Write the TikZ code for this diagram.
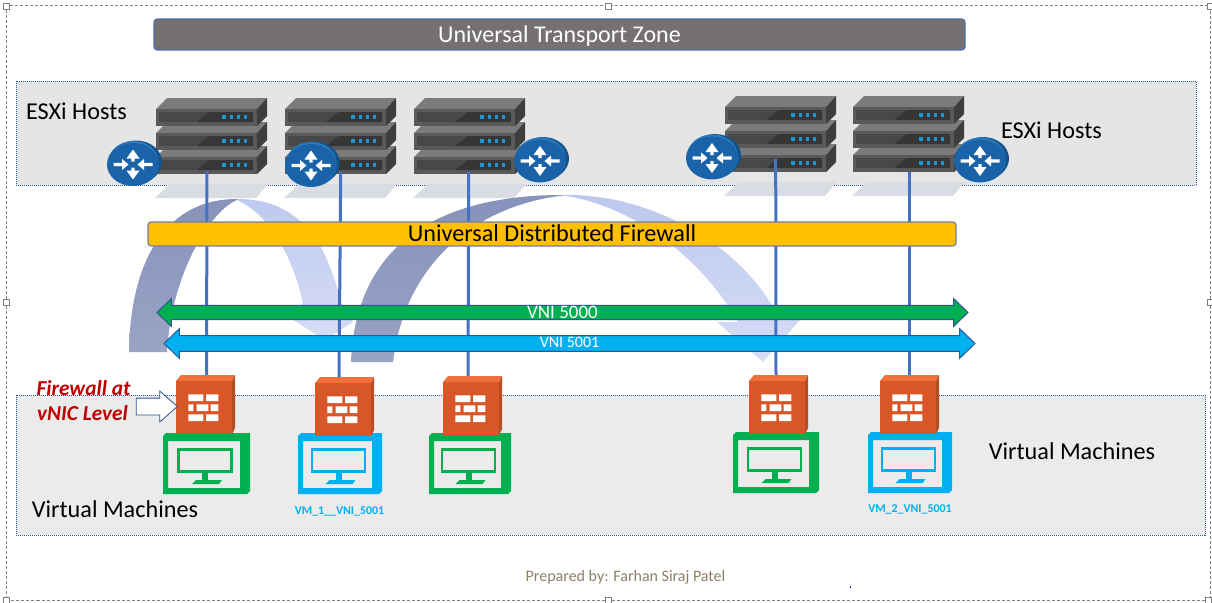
\documentclass[tikz,border=0pt]{standalone}
\usepackage{fontspec}
\setmainfont{Carlito}
\usetikzlibrary{shapes.arrows}
\definecolor{bandA}{HTML}{E5E5E5}
\definecolor{bandB}{HTML}{EBEBEB}
\definecolor{edgeB}{HTML}{2F5597}
\definecolor{linkB}{HTML}{4472C4}
\definecolor{vmG}{HTML}{00B050}
\definecolor{vmB}{HTML}{00B0F0}
\definecolor{fwF}{HTML}{D85627}
\definecolor{fwT}{HTML}{F0703C}
\definecolor{fwS}{HTML}{B54E25}
\definecolor{shadowC}{HTML}{D9DCE2}
\definecolor{redT}{HTML}{C00000}
\definecolor{srvT}{HTML}{7B7B7B}
\definecolor{srvF}{HTML}{5A5A5A}
\definecolor{srvS}{HTML}{3E3E3E}
\definecolor{srvI}{HTML}{484848}
\definecolor{srvD}{HTML}{363636}
\definecolor{srvL}{HTML}{1E96D8}
\definecolor{arcLa}{HTML}{BCC8EE}
\definecolor{arcLb}{HTML}{D8DEF6}
\definecolor{arcDa}{HTML}{8692BC}
\definecolor{arcDb}{HTML}{9CA4C4}
\definecolor{ttl}{HTML}{767171}
\definecolor{barY}{HTML}{FFC000}
\definecolor{barE}{HTML}{6E80A8}
\definecolor{prepC}{HTML}{8C8069}
\newcommand\fs[1]{\fontsize{#1}{#1}\selectfont}
\tikzset{
  x=1pt,y=-1pt,
  band/.style={draw=edgeB,line width=.8pt,dash pattern=on 1pt off 1pt},
  lbl/.style={inner sep=0pt,text=black,font=\fs{24.2}},
  vmlbl/.style={inner sep=0pt,text=vmB,font=\fs{11.9}\bfseries},
  redlbl/.style={inner sep=0pt,text=redT,font=\fs{21.3}\bfseries\itshape},
  link/.style={draw=linkB,line width=3pt},
  handle/.style={draw=gray,fill=white,line width=.6pt,minimum size=6pt,inner sep=0pt},
  vniarrow/.style={double arrow,draw=edgeB,line width=1pt,inner sep=0pt,text=white,
     double arrow tip angle=88,double arrow head indent=0pt,minimum height=#1,anchor=center},
}
\newcommand\SrvLayer[2]{%
 \begin{scope}[shift={(#1,#2)}]
  \fill[srvT] (0,11) -- (11,0) -- (111,0) -- (101,11) -- cycle;
  \fill[srvS] (101,11) -- (111,0) -- (111,18) -- (101,28) -- cycle;
  \fill[srvF] (0,11) rectangle (101,28);
  \fill[srvI] (3,14) rectangle (97,24);
  \fill[srvD] (41,24) -- (54,14) -- (97,14) -- (97,24) -- cycle;
  \foreach \lx in {66.3,73.5,80.5,87.5}{\fill[srvL] (\lx,17.3) rectangle ++(3.5,3.5);}
 \end{scope}}
\newcommand\SrvShadow[2]{%
 \begin{scope}[shift={(#1,#2)}]
  \fill[shadowC] (-1,100) -- (100,100) -- (112,86) -- (14,86) -- cycle;
 \end{scope}}
\newcommand\SrvThree[2]{%
 \SrvLayer{#1}{#2+48}\SrvLayer{#1}{#2+24}\SrvLayer{#1}{#2}}
\definecolor{rF}{HTML}{1A63A8}
\definecolor{rT}{HTML}{2A7ABF}
\definecolor{rD}{HTML}{14528C}
\newcommand\Router[2]{%
 \begin{scope}[shift={(#1,#2)}]
  \fill[rD] (3,-2.5) ellipse [x radius=26,y radius=21.5];
  \fill[rT] (0.5,-3) ellipse [x radius=25,y radius=20.5];
  \fill[rF] (0,0) ellipse [x radius=26,y radius=21.5];
  \fill[white] (0,-15) -- (6.5,-6) -- (1.7,-6) -- (1.7,-3) -- (-1.7,-3) -- (-1.7,-6) -- (-6.5,-6) -- cycle;
  \fill[white] (0,15) -- (6.5,6) -- (1.7,6) -- (1.7,3) -- (-1.7,3) -- (-1.7,6) -- (-6.5,6) -- cycle;
  \fill[white] (-4.5,0) -- (-11,-5.5) -- (-11,-1.6) -- (-19.5,-1.6) -- (-19.5,1.6) -- (-11,1.6) -- (-11,5.5) -- cycle;
  \fill[white] (4.5,0) -- (11,-5.5) -- (11,-1.6) -- (19.5,-1.6) -- (19.5,1.6) -- (11,1.6) -- (11,5.5) -- cycle;
 \end{scope}}
\newcommand\Wall[2]{%
 \begin{scope}[shift={(#1,#2)}]
  \fill[fwT] (0,0) -- (5,-6) -- (59,-6) -- (56,0) -- cycle;
  \fill[fwS] (56,0) -- (59,-6) -- (59,47) -- (56,53) -- cycle;
  \fill[fwF] (0,0) rectangle (56,53);
  \fill[white] (12.3,13.3) rectangle (27.3,20) (30,13.3) rectangle (42.3,20)
   (12.3,23.3) rectangle (17.3,30) (20.7,23.3) rectangle (32.3,30) (34.7,23.3) rectangle (42.3,30)
   (12.3,33.3) rectangle (27.3,40) (30,33.3) rectangle (42.3,40);
 \end{scope}}
\newcommand\VMbox[4]{%
 \begin{scope}[shift={(#1,#2)}]
  \fill[#4,even odd rule] (3,0) -- (#3,0) -- (#3,58) -- (#3-3,61) -- (0,61) -- (0,3) -- cycle
    (5,8) rectangle (#3-10,55);
  \begin{scope}[shift={({(#3-87)/2},0)}]
  \draw[#4,line width=2.6pt,fill=bandB] (15.5,16.5) rectangle (68.5,38.5);
  \fill[#4] (39,40) rectangle (45,48);
  \fill[#4] (29,51) -- (33,47) -- (59,47) -- (56,51) -- cycle;
  \end{scope}
 \end{scope}}
\begin{document}
\begin{tikzpicture}
\useasboundingbox (0,0) rectangle (1212,602);
\fill[white] (0,0) rectangle (1212,602);
\draw[gray,dash pattern=on 3pt off 2pt,line width=.8pt] (6,5.5) rectangle (1210,600);
\foreach \hn/\hx/\hy in {a/6/6,b/608/6,c/1210/6,d/6/302,e/1210/302,g/6/600,j/608/600,k/1208/600}
  \node[handle] (hd\hn) at (\hx,\hy) {};
\fill[bandA] (16,81) rectangle (1196,185);
\draw[band] (16,81) rectangle (1196,185);
\fill[bandB] (16,395) rectangle (1205,535);
\draw[band] (16,395) rectangle (1205,535);
\node[draw=edgeB!85!white,line width=1.4pt,fill=ttl,rounded corners=3.5pt,text height=16pt,text depth=0pt,
  minimum width=811pt,minimum height=31pt,inner sep=0pt,text=white,font=\fs{24}] (title) at (559.5,34.5) {Universal Transport Zone};
\SrvShadow{156}{98}\SrvShadow{285}{98}\SrvShadow{414}{98}\SrvShadow{725}{96}\SrvShadow{853}{96}
% arcs
\begin{scope}
 \clip (129,352) .. controls (130,270) and (160,199) .. (237,199)
   .. controls (295,199) and (325,235) .. (341,303) -- (353,322) -- (325,340) -- (290,318) -- (303,303)
   .. controls (292,255) and (270,215) .. (237,200) .. controls (212,210) and (172,270) .. (167,352) -- cycle;
 \shade[top color=arcLa,bottom color=arcLb] (237,190) rectangle (360,350);
 \shade[top color=arcDa,bottom color=arcDb] (100,190) rectangle (237.3,360);
\end{scope}
\begin{scope}
 \clip (351,362) .. controls (355,255) and (425,195) .. (563,195)
   .. controls (640,193) and (730,235) .. (773,307) -- (800,320) -- (763,362) -- (717,322) -- (738,322)
   .. controls (700,255) and (630,205) .. (563,195.5) .. controls (480,205) and (405,260) .. (393,362) -- cycle;
 \shade[top color=arcLa,bottom color=arcLb] (563,190) rectangle (810,370);
 \shade[top color=arcDa,bottom color=arcDb] (340,190) rectangle (563.3,370);
\end{scope}
\SrvThree{156}{98}\SrvThree{285}{98}\SrvThree{414}{98}\SrvThree{725}{96}\SrvThree{853}{96}
\coordinate (h1) at (207,171); \coordinate (f1) at (206.5,380);
\coordinate (h2) at (340.7,172); \coordinate (f2) at (339,380);
\coordinate (h3) at (468.7,172); \coordinate (f3) at (468,380);
\coordinate (h4) at (775.7,159); \coordinate (f4) at (776,380);
\coordinate (h5) at (909,172); \coordinate (f5) at (909,380);
\foreach \i in {1,...,5}{\draw[link] (h\i) -- (f\i);}
\node[draw=barE,line width=1.2pt,fill=barY,rounded corners=3pt,text height=16pt,text depth=2pt,
  minimum width=808pt,minimum height=24pt,inner sep=0pt,text=black,font=\fs{24.2}] (udfw) at (552,234) {Universal Distributed Firewall};
\node[vniarrow=811pt,fill=vmG,minimum width=27pt,double arrow head extend=6.8pt,text height=12.3pt,text depth=1pt,font=\fs{19}] (vni0) at (562.5,312.5) {VNI 5000};
\node[vniarrow=811pt,fill=vmB,minimum width=29pt,double arrow head extend=7pt,text height=11.7pt,text depth=3pt,font=\fs{16}] (vni1) at (569.5,343.5) {VNI 5001};
\Router{133}{164.5}\Router{311}{165.5}\Router{540}{161}\Router{712}{158}\Router{980}{161}
\VMbox{163}{433}{87}{vmG}\VMbox{298}{433}{84}{vmB}\VMbox{429}{433}{82}{vmG}\VMbox{733}{432}{86}{vmG}\VMbox{868}{432}{84}{vmB}
\Wall{176}{381}\Wall{315}{383}\Wall{443}{382}\Wall{749}{381}\Wall{880}{381}
\node[single arrow,draw=edgeB,fill=white,line width=.8pt,inner sep=0pt,minimum height=41pt,minimum width=30pt,text height=16pt,text depth=0pt,
  single arrow head extend=7pt,single arrow tip angle=83,single arrow head indent=0pt] (callout) at (152,406.5) {};
\node[lbl] (esxA) at (76.5,111) {ESXi Hosts};
\node[lbl] (esxB) at (1051.5,130) {ESXi Hosts};
\node[lbl] (vmA) at (115,509) {Virtual Machines};
\node[lbl] (vmC) at (1072,451) {Virtual Machines};
\node[redlbl] (fwa) at (83.5,388) {Firewall at};
\node[redlbl] (fwb) at (82.5,413) {vNIC Level};
\node[vmlbl] (vma) at (339.5,511.5) {VM\_1\_\_VNI\_5001};
\node[vmlbl] (vmb) at (910,509.5) {VM\_2\_VNI\_5001};
\node[inner sep=0pt,text=prepC,font=\fs{16}] (prep) at (625.5,577.5) {Prepared by: Farhan Siraj Patel};
\fill[blue!80!black] (850.5,587) circle (.8);
\end{tikzpicture}
\end{document}
